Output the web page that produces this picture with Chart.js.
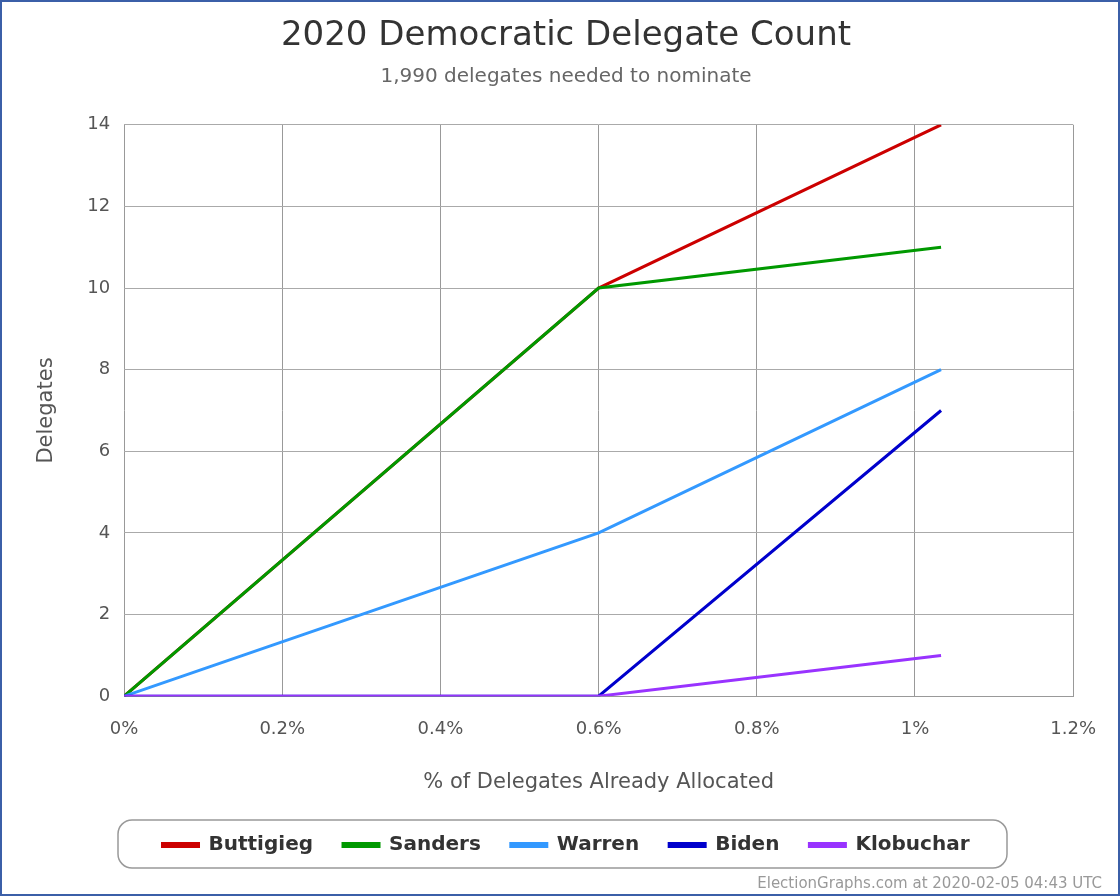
<!DOCTYPE html>
<html><head><meta charset="utf-8">
<script src="https://cdn.jsdelivr.net/npm/chart.js@4"></script>
<style>
html,body{margin:0;padding:0;background:#fff;}
#wrap{position:relative;width:1116px;height:892px;border:2px solid #3b5fa8;}
#foot{position:absolute;right:16px;bottom:2px;font-family:"DejaVu Sans";font-size:15px;color:#999;}
</style></head><body>
<div id="wrap"><canvas id="c" width="1116" height="892"></canvas><div id="foot">ElectionGraphs.com at 2020-02-05 04:43 UTC</div></div>
<script>
const xValues = [0, 0.6, 1.033];
const names = ["Buttigieg","Sanders","Warren","Biden","Klobuchar"];
const colors = ["#cc0000","#009900","#3399ff","#0000cc","#9933ff"];
const buttigieg = [0, 10, 14];
const sanders = [0, 10, 11];
const warren = [0, 4, 8];
const biden = [0, 0, 7];
const klobuchar = [0, 0, 1];
const series = [buttigieg, sanders, warren, biden, klobuchar];
const FONT = "DejaVu Sans";
Chart.defaults.font.family = FONT;
const legendBox = {
  id:'legendBox',
  afterDraw(chart){
    const ctx = chart.ctx;
    ctx.save();
    ctx.strokeStyle='#999'; ctx.lineWidth=1.5;
    ctx.beginPath(); ctx.roundRect(116,818,889,48,14); ctx.stroke();
    ctx.restore();
  }
};
new Chart(document.getElementById('c'), {
  type:'line',
  data:{datasets: names.map((n,i)=>({
    label:n,
    data: xValues.map((x,j)=>({x:x,y:series[i][j]})),
    borderColor: colors[i], backgroundColor: colors[i],
    borderWidth:3, pointRadius:0, tension:0
  })).reverse()},
  options:{
    responsive:false, animation:false,
    layout:{padding:{left:28,right:16,top:0,bottom:29}},
    plugins:{
      title:{display:true,text:'2020 Democratic Delegate Count',color:'#333',font:{size:34,weight:'normal'},padding:{top:14,bottom:8}},
      subtitle:{display:true,text:'1,990 delegates needed to nominate',color:'#666',font:{size:20},padding:{bottom:36}},
      legend:{position:'bottom',reverse:true,
        labels:{color:'#333',font:{size:20,weight:'bold'},boxWidth:36,boxHeight:3,padding:30}},
      tooltip:{enabled:false}
    },
    scales:{
      x:{type:'linear',min:0,max:1.2,
        ticks:{stepSize:0.2,color:'#555',font:{size:18},padding:22,callback:v=>(Math.round(v*10)/10)+'%'},
        grid:{color:'#999',drawTicks:false},border:{color:'#999'},
        title:{display:true,text:'% of Delegates Already Allocated',color:'#555',font:{size:21},padding:{top:8,bottom:10}}},
      y:{min:0,max:14,
        ticks:{stepSize:2,color:'#555',font:{size:18},padding:14},
        grid:{color:'#aaa',drawTicks:false},border:{display:false},
        title:{display:true,text:'Delegates',color:'#555',font:{size:21},padding:{bottom:14}}}
    }
  },
  plugins:[legendBox]
});
</script></body></html>
